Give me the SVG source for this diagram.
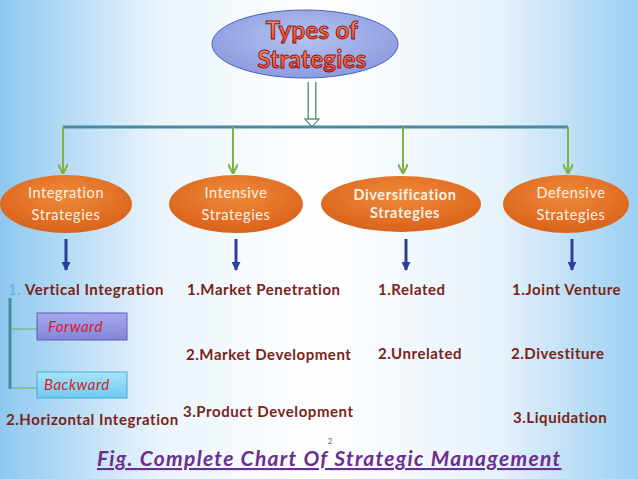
<svg xmlns="http://www.w3.org/2000/svg" width="638" height="479" viewBox="0 0 638 479">
<defs>
<linearGradient id="bg" x1="0" y1="0" x2="1" y2="0">
<stop offset="0" stop-color="#8fc8ef"/>
<stop offset="0.25" stop-color="#eaf5fc"/>
<stop offset="0.5" stop-color="#ffffff"/>
<stop offset="0.78" stop-color="#e6f3fb"/>
<stop offset="1" stop-color="#9ccff2"/>
</linearGradient>
<radialGradient id="top" cx="0.5" cy="0.4" r="0.6">
<stop offset="0" stop-color="#b6c4ee"/>
<stop offset="1" stop-color="#8b9be0"/>
</radialGradient>
<radialGradient id="or" cx="0.5" cy="0.35" r="0.65">
<stop offset="0" stop-color="#f08a3a"/>
<stop offset="1" stop-color="#d9621a"/>
</radialGradient>
<linearGradient id="fw" x1="0" y1="0" x2="0" y2="1">
<stop offset="0" stop-color="#a7a9ee"/>
<stop offset="1" stop-color="#8285d8"/>
</linearGradient>
<linearGradient id="bw" x1="0" y1="0" x2="0" y2="1">
<stop offset="0" stop-color="#a8e4f8"/>
<stop offset="1" stop-color="#6ccbef"/>
</linearGradient>
<linearGradient id="tt" x1="0" y1="0" x2="0" y2="1">
<stop offset="0" stop-color="#ffb080"/>
<stop offset="1" stop-color="#f03a1a"/>
</linearGradient>
<marker id="ga" viewBox="0 0 10 10" refX="9" refY="5" markerWidth="5" markerHeight="5" orient="auto">
<path d="M0,0 L10,5 L0,10" fill="none" stroke="#7cb342" stroke-width="2"/>
</marker>
<marker id="ba" viewBox="0 0 10 10" refX="9" refY="5" markerWidth="3" markerHeight="3" orient="auto">
<path d="M0,0 L10,5 L0,10 z" fill="#2b3f9c"/>
</marker>
</defs>
<style>
.it{font-family:Lato,"Liberation Sans",sans-serif;font-weight:bold;font-size:15px;letter-spacing:0.55px;fill:#7a2418}
.ov{font-family:Lato,"Liberation Sans",sans-serif;font-size:14.5px;letter-spacing:0.6px;fill:#fdf1e8;text-anchor:middle}
.tt{font-family:Lato,"Liberation Sans",sans-serif;font-weight:bold;font-size:24px;letter-spacing:0.3px;fill:url(#tt);stroke:#8a1010;stroke-width:0.9px;text-anchor:middle}
.g{stroke:#7cb342;stroke-width:2;fill:none}
.b{stroke:#2b3f9c;stroke-width:3;fill:none}
</style>
<rect x="0" y="0" width="638" height="479" fill="url(#bg)"/>

<g id="connectors">
<path d="M312,82 V120" stroke="#5a9a7a" stroke-width="9" fill="none"/>
<path d="M312,81 V121" stroke="#ffffff" stroke-width="6" fill="none"/>
<path d="M305,119 L312,127 L319,119 z" fill="#ffffff" stroke="#5a9a7a" stroke-width="1.3"/>
<path d="M63,127 H568" stroke="#4a8aa0" stroke-width="3" fill="none"/>
<path class="g" d="M63,127 V173" marker-end="url(#ga)"/>
<path class="g" d="M233,127 V173" marker-end="url(#ga)"/>
<path class="g" d="M403,127 V173" marker-end="url(#ga)"/>
<path class="g" d="M568,127 V173" marker-end="url(#ga)"/>
<path class="b" d="M66,239 V270" marker-end="url(#ba)"/>
<path class="b" d="M236,239 V270" marker-end="url(#ba)"/>
<path class="b" d="M406,239 V270" marker-end="url(#ba)"/>
<path class="b" d="M572,239 V270" marker-end="url(#ba)"/>
<path d="M10,298 V389" stroke="#4a8aa0" stroke-width="3" fill="none"/>
<path d="M11,329 H37 M11,388 H37" stroke="#5cb85c" stroke-width="1.2" fill="none"/>
</g>

<g id="root">
<ellipse cx="305" cy="44" rx="93" ry="34" fill="url(#top)" stroke="#5060b8" stroke-width="1"/>
<text class="tt" x="312" y="39">Types of</text>
<text class="tt" x="312" y="68">Strategies</text>
</g>

<g id="integration">
<ellipse cx="66" cy="204" rx="66" ry="29" fill="url(#or)"/>
<text class="ov" x="66" y="198">Integration</text>
<text class="ov" x="66" y="220">Strategies</text>
</g>
<g id="intensive">
<ellipse cx="236" cy="204" rx="67" ry="29" fill="url(#or)"/>
<text class="ov" x="236" y="198">Intensive</text>
<text class="ov" x="236" y="220">Strategies</text>
</g>
<g id="diversification">
<ellipse cx="401" cy="204" rx="80" ry="28" fill="url(#or)"/>
<text class="ov" x="405" y="200" font-weight="bold" font-size="12" letter-spacing="0.3">Diversification</text>
<text class="ov" x="405" y="218" font-weight="bold" font-size="12" letter-spacing="0.3">Strategies</text>
</g>
<g id="defensive">
<ellipse cx="566" cy="204" rx="63" ry="29" fill="url(#or)"/>
<text class="ov" x="571" y="198">Defensive</text>
<text class="ov" x="571" y="220">Strategies</text>
</g>

<g id="col1">
<text class="it" x="8" y="295"><tspan fill="#6ab8e0">1.</tspan> Vertical Integration</text>
<text class="it" x="6" y="425">2.Horizontal Integration</text>
</g>
<g id="forward">
<rect x="37" y="313" width="90" height="27" fill="url(#fw)" stroke="#5a5fb8" stroke-width="1"/>
<text x="48" y="332" font-family="Lato,'Liberation Sans',sans-serif" font-style="italic" font-size="15" letter-spacing="0.5" fill="#d4202a">Forward</text>
</g>
<g id="backward">
<rect x="37" y="372" width="90" height="26" fill="url(#bw)" stroke="#4aa8d8" stroke-width="1"/>
<text x="44" y="390" font-family="Lato,'Liberation Sans',sans-serif" font-style="italic" font-size="15" letter-spacing="0.5" fill="#d4202a">Backward</text>
</g>
<g id="col2">
<text class="it" x="187" y="295">1.Market Penetration</text>
<text class="it" x="186" y="360">2.Market Development</text>
<text class="it" x="183" y="417">3.Product Development</text>
</g>
<g id="col3">
<text class="it" x="378" y="295">1.Related</text>
<text class="it" x="378" y="359">2.Unrelated</text>
</g>
<g id="col4">
<text class="it" x="512" y="295">1.Joint Venture</text>
<text class="it" x="511" y="359">2.Divestiture</text>
<text class="it" x="513" y="423">3.Liquidation</text>
</g>
<text x="330" y="444" text-anchor="middle" font-family="Lato,'Liberation Sans',sans-serif" font-size="8" fill="#666">2</text>
<text x="97" y="466" font-family="Lato,'Liberation Sans',sans-serif" font-style="italic" font-weight="bold" font-size="21" letter-spacing="1.3" fill="#6a2e8f" text-decoration="underline">Fig. Complete Chart Of Strategic Management</text>
</svg>
